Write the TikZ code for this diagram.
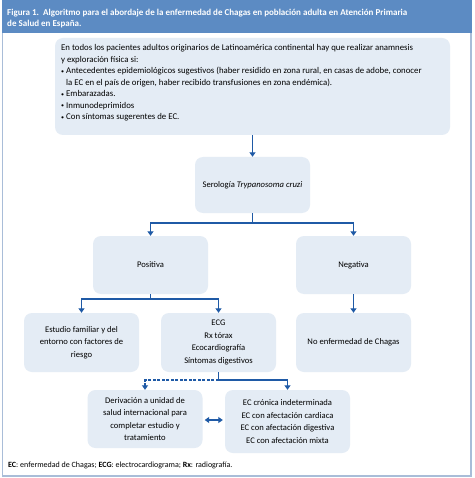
\documentclass[tikz,border=0pt]{standalone}
\usepackage{fontspec}
\setmainfont{Carlito}
\usetikzlibrary{arrows.meta,calc}
\definecolor{hdr}{HTML}{5C8BC3}
\definecolor{frm}{HTML}{A9BDD8}
\definecolor{boxf}{HTML}{E4ECF5}
\definecolor{arr}{HTML}{1F5AA6}
\newcommand{\blt}{\makebox[5pt][l]{\raisebox{0.5pt}{\fontsize{6}{6}\selectfont •}}}
\tikzset{
  bx/.style={fill=boxf, rounded corners=8pt, align=center, inner sep=3pt, font=\fontsize{8.6}{12.4}\selectfont},
  conn/.style={draw=arr, line width=1.5pt, -{Triangle[width=6pt,length=4.5pt]}},
  plainconn/.style={draw=arr, line width=1.5pt},
}
\begin{document}
\begin{tikzpicture}[x=1pt,y=-1pt]
\useasboundingbox (0,0) rectangle (474,478);
\fill[white] (0,0) rectangle (474,478);
% frame and header
\draw[frm, line width=1.5pt] (2.5,1) rectangle (471,476);
\fill[hdr] (1.75,0.25) rectangle (471.75,33);
\node[anchor=west, text=white, font=\fontsize{9}{11.8}\selectfont\bfseries, align=left, inner sep=0pt] (title) at (7,18.5)
  {Figura 1.\ \ Algoritmo para el abordaje de la enfermedad de Chagas en población adulta en Atención Primaria\\de Salud en España.};
% boxes
\node[bx, minimum width=395pt, minimum height=97pt] (top) at (252.5,86.5) {};
\node[anchor=north west, align=left, inner sep=0pt, font=\fontsize{8.8}{11.5}\selectfont] (toptext) at (61,44.5)
  {En todos los pacientes adultos originarios de Latinoamérica continental hay que realizar anamnesis\\
   y exploración física si:\\
   \blt Antecedentes epidemiológicos sugestivos (haber residido en zona rural, en casas de adobe, conocer\\
   \hphantom{\blt}la EC en el país de origen, haber recibido transfusiones en zona endémica).\\
   \blt Embarazadas.\\
   \blt Inmunodeprimidos\\
   \blt Con síntomas sugerentes de EC.};
\node[bx, minimum width=115pt, minimum height=56pt] (sero) at (252.5,185) {Serología \textit{Trypanosoma cruzi}};
\node[bx, minimum width=115pt, minimum height=58pt] (pos) at (150.5,265) {Positiva};
\node[bx, minimum width=115pt, minimum height=58pt] (neg) at (353.5,265) {Negativa};
\node[bx, minimum width=115pt, minimum height=59pt] (est) at (81.5,342.5) {Estudio familiar y del\\entorno con factores de\\riesgo};
\node[bx, minimum width=115pt, minimum height=59pt] (ecg) at (218.5,342.5) {ECG\\Rx tórax\\Ecocardiografía\\Síntomas digestivos};
\node[bx, minimum width=115pt, minimum height=59pt] (noch) at (353.5,342.5) {\raisebox{-6pt}{No enfermedad de Chagas}};
\node[bx, minimum width=115pt, minimum height=58pt] (der) at (145,419) {Derivación a unidad de\\salud internacional para\\completar estudio y\\tratamiento};
\node[bx, minimum width=125pt, minimum height=63pt] (ecr) at (287.5,421.5) {EC crónica indeterminada\\EC con afectación cardiaca\\EC con afectación digestiva\\EC con afectación mixta};
% footer
\node[anchor=west, inner sep=0pt, font=\fontsize{8}{9}\selectfont] (foot) at (8,465)
  {\textbf{EC}: enfermedad de Chagas; \textbf{ECG}: electrocardiograma; \textbf{Rx}: radiografía.};
% connectors
\draw[conn] (top.south) -- (sero.north);
\coordinate (b1) at ($(sero.south)+(0,10)$);
\draw[plainconn] (sero.south) -- (b1);
\draw[conn] (b1) -| (pos.north);
\draw[conn] (b1) -| (neg.north);
\coordinate (b2) at ($(pos.south)+(0,5)$);
\draw[plainconn] (pos.south) -- (b2);
\draw[conn] (b2) -| (est.north);
\draw[conn] (b2) -| (ecg.north);
\draw[conn] (neg.south) -- (noch.north);
\coordinate (b3) at ($(ecg.south)+(0,8)$);
\draw[plainconn] (ecg.south) -- (b3);
\draw[conn, dashed, dash pattern=on 3pt off 1.5pt] (b3) -| (der.north);
\draw[conn] (b3) -| (ecr.north);
\draw[draw=arr, line width=1.5pt, {Triangle[width=6pt,length=4.5pt]}-{Triangle[width=6pt,length=4.5pt]}, shorten <=2pt, shorten >=2pt] (der.east |- 0,420) -- (ecr.west |- 0,420);
\end{tikzpicture}
\end{document}
